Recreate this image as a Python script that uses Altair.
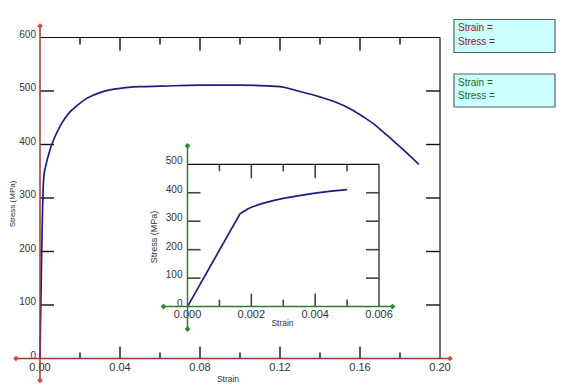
import altair as alt
import pandas as pd

# ---------------- data ----------------
main_strain = [0.0, 0.0017, 0.002, 0.003, 0.005, 0.0075, 0.010, 0.0125, 0.015, 0.018,
               0.022, 0.026, 0.030, 0.035, 0.040, 0.050, 0.060, 0.080, 0.100, 0.120,
               0.123, 0.130, 0.140, 0.148, 0.155, 0.1616, 0.167, 0.1717, 0.177, 0.182, 0.1894]
main_stress = [0, 328, 342, 362, 390, 415, 434, 449, 461, 471,
               483, 491, 497, 502, 505, 508, 509, 511, 511, 508,
               506, 499, 489, 479, 467, 452, 438, 423, 406, 389, 363]

inset_strain = [0.0, 0.00164, 0.0017, 0.0018, 0.0019, 0.002, 0.00225, 0.0025, 0.00275, 0.003,
                0.0035, 0.004, 0.0045, 0.005]
inset_stress = [0, 325, 330, 337, 344, 349, 359, 367, 374, 380,
                390, 399, 406, 411]

main_x_major = [0.04, 0.08, 0.12, 0.16]
main_x_minor = [0.02, 0.06, 0.10, 0.14, 0.18]
main_x_label_vals = [0.00, 0.04, 0.08, 0.12, 0.16, 0.20]
main_x_labels = ["0.00", "0.04", "0.08", "0.12", "0.16", "0.20"]
main_y_ticks = [100, 200, 300, 400, 500]
main_y_label_vals = [0, 100, 200, 300, 400, 500, 600]
main_y_labels = ["0", "100", "200", "300", "400", "500", "600"]

inset_x_major = [0.002, 0.004]
inset_x_minor = [0.001, 0.003, 0.005]
inset_x_label_vals = [0.000, 0.002, 0.004, 0.006]
inset_x_labels = ["0.000", "0.002", "0.004", "0.006"]
inset_y_ticks = [100, 200, 300, 400]
inset_y_label_vals = [0, 100, 200, 300, 400, 500]
inset_y_labels = ["0", "100", "200", "300", "400", "500"]

box_lines = ["Strain =", "Stress ="]

# ---------------- styling ----------------
FONT = "Liberation Sans"
CURVE = "#1c1c82"
RED_LINE = "#a83434"
RED_PT = "#d8453a"
GREEN_LINE = "#2d7d2d"
GREEN_PT = "#1f8f1f"
LABEL = "#333333"

MX = alt.Scale(domain=[0, 0.2], range=[32, 432], nice=False, zero=False)
MY = alt.Scale(domain=[0, 600], range=[350.5, 29.5], nice=False, zero=False)
IX = alt.Scale(domain=[0, 0.006], range=[179.5, 371], nice=False, zero=False)
IY = alt.Scale(domain=[0, 500], range=[298.6, 156.3], nice=False, zero=False)

ONE = alt.Data(values=[{"a": 0}])


def vals_df(vals, labels=None):
    d = {"v": vals}
    if labels is not None:
        d["t"] = labels
    return pd.DataFrame(d)


def vticks(vals, sx, sy, yval, length, color, width=1.4):
    return alt.Chart(vals_df(vals)).mark_rule(color=color, strokeWidth=width, y2Offset=length).encode(
        x=alt.X("v:Q", scale=sx, axis=None),
        y=alt.YDatum(yval, scale=sy, axis=None),
        y2=alt.Y2Datum(yval),
    )


def hticks(vals, sx, sy, xval, length, color, width=1.4):
    return alt.Chart(vals_df(vals)).mark_rule(color=color, strokeWidth=width, x2Offset=length).encode(
        y=alt.Y("v:Q", scale=sy, axis=None),
        x=alt.XDatum(xval, scale=sx, axis=None),
        x2=alt.X2Datum(xval),
    )


def hline(sx, sy, x1, x2, yv, color, width=1.3, o1=0, o2=0):
    return alt.Chart(ONE).mark_rule(color=color, strokeWidth=width, xOffset=o1, x2Offset=o2).encode(
        x=alt.XDatum(x1, scale=sx, axis=None),
        x2=alt.X2Datum(x2),
        y=alt.YDatum(yv, scale=sy, axis=None),
    )


def vline(sx, sy, xv, y1, y2, color, width=1.3, o1=0, o2=0):
    return alt.Chart(ONE).mark_rule(color=color, strokeWidth=width, yOffset=o1, y2Offset=o2).encode(
        y=alt.YDatum(y1, scale=sy, axis=None),
        y2=alt.Y2Datum(y2),
        x=alt.XDatum(xv, scale=sx, axis=None),
    )


def diamond(sx, sy, xv, yv, color, dx=0, dy=0):
    return alt.Chart(ONE).mark_point(shape="diamond", filled=True, opacity=1, size=32,
                                     color=color, xOffset=dx, yOffset=dy).encode(
        x=alt.XDatum(xv, scale=sx, axis=None),
        y=alt.YDatum(yv, scale=sy, axis=None),
    )


def xlabels(vals, labels, sx, sy, yv, size, dy):
    return alt.Chart(vals_df(vals, labels)).mark_text(
        font=FONT, fontSize=size, color=LABEL, align="center", baseline="middle", dy=dy).encode(
        x=alt.X("v:Q", scale=sx, axis=None),
        y=alt.YDatum(yv, scale=sy, axis=None),
        text="t:N",
    )


def ylabels(vals, labels, sx, sy, xv, size, dx, dy):
    return alt.Chart(vals_df(vals, labels)).mark_text(
        font=FONT, fontSize=size, color=LABEL, align="right", baseline="middle", dx=dx, dy=dy).encode(
        y=alt.Y("v:Q", scale=sy, axis=None),
        x=alt.XDatum(xv, scale=sx, axis=None),
        text="t:N",
    )


def curve(xs, ys, sx, sy, interp):
    df = pd.DataFrame({"strain": xs, "stress": ys})
    return alt.Chart(df).mark_line(color=CURVE, strokeWidth=1.7, interpolate=interp).encode(
        x=alt.X("strain:Q", scale=sx, axis=None),
        y=alt.Y("stress:Q", scale=sy, axis=None),
    )


def title_text(txt, x, y, size, angle=0):
    kw = dict(font=FONT, fontSize=size, color=LABEL, align="center", baseline="middle")
    if angle:
        kw["angle"] = angle
    return alt.Chart(ONE).mark_text(text=txt, **kw).encode(x=alt.value(x), y=alt.value(y))


def info_box(y0, color):
    rect = alt.Chart(ONE).mark_rect(fill="#ccffff", stroke="#4b6464", strokeWidth=1.2).encode(
        x=alt.value(446), x2=alt.value(547), y=alt.value(y0), y2=alt.value(y0 + 33))
    t1 = alt.Chart(ONE).mark_text(text=box_lines[0], font=FONT, fontSize=10, color=color,
                                  align="left", baseline="middle").encode(
        x=alt.value(450), y=alt.value(y0 + 8.5))
    t2 = alt.Chart(ONE).mark_text(text=box_lines[1], font=FONT, fontSize=10, color=color,
                                  align="left", baseline="middle").encode(
        x=alt.value(450), y=alt.value(y0 + 22))
    return [rect, t1, t2]


layers = []

# ---- main plot ----
layers += [
    hline(MX, MY, 0, 0.2, 600, "#111111", 1.2),
    vline(MX, MY, 0.2, 0, 600, "#111111", 1.2),
    vticks(main_x_major, MX, MY, 0, -12, "#111111"),
    vticks(main_x_minor, MX, MY, 0, -6, "#111111"),
    vticks(main_x_major, MX, MY, 600, 13, "#111111"),
    vticks(main_x_minor, MX, MY, 600, 7, "#111111"),
    hticks(main_y_ticks, MX, MY, 0, 14, "#111111"),
    hticks(main_y_ticks, MX, MY, 0.2, -14, "#111111"),
    xlabels(main_x_label_vals, main_x_labels, MX, MY, 0, 11, 9),
    ylabels(main_y_label_vals, main_y_labels, MX, MY, 0, 10, -4, -3),
    curve(main_strain, main_stress, MX, MY, "monotone"),
    hline(MX, MY, 0, 0.2, 0, RED_LINE, 1.5, -24, 10),
    vline(MX, MY, 0, 0, 600, RED_LINE, 1.5, 22, -11.5),
    diamond(MX, MY, 0, 0, RED_PT, dx=-24),
    diamond(MX, MY, 0.2, 0, RED_PT, dx=10),
    diamond(MX, MY, 0, 600, RED_PT, dy=-11.5),
    diamond(MX, MY, 0, 0, RED_PT, dy=22),
    title_text("Strain", 220, 371, 8.5),
    title_text("Stress (MPa)", 5, 196, 8, angle=270),
]

# ---- inset plot ----
layers += [
    hline(IX, IY, 0, 0.006, 500, "#111111", 1.2),
    vline(IX, IY, 0.006, 0, 500, "#111111", 1.2),
    vticks(inset_x_major, IX, IY, 0, -13, "#444444", 1.6),
    vticks(inset_x_minor, IX, IY, 0, -7, "#444444", 1.6),
    vticks(inset_x_major, IX, IY, 500, 14, "#444444", 1.6),
    vticks(inset_x_minor, IX, IY, 500, 7, "#444444", 1.6),
    hticks(inset_y_ticks, IX, IY, 0, 13, "#444444", 1.6),
    hticks(inset_y_ticks, IX, IY, 0.006, -13, "#444444", 1.6),
    xlabels(inset_x_label_vals, inset_x_labels, IX, IY, 0, 11, 8),
    ylabels(inset_y_label_vals, inset_y_labels, IX, IY, 0, 10, -5, -3),
    curve(inset_strain, inset_stress, IX, IY, "linear"),
    hline(IX, IY, 0, 0.006, 0, GREEN_LINE, 1.5, -24, 13.5),
    vline(IX, IY, 0, 0, 500, GREEN_LINE, 1.5, 22.5, -18.5),
    diamond(IX, IY, 0, 0, GREEN_PT, dx=-24),
    diamond(IX, IY, 0.006, 0, GREEN_PT, dx=13.5),
    diamond(IX, IY, 0, 500, GREEN_PT, dy=-18.5),
    diamond(IX, IY, 0, 0, GREEN_PT, dy=22.5),
    title_text("Strain", 274.5, 315, 8.5),
    title_text("Stress (MPa)", 146, 229, 9, angle=270),
]

# ---- info boxes ----
layers += info_box(11.5, "#8b1c1c")
layers += info_box(66, "#1c6b1c")

chart = alt.layer(*layers).resolve_scale(
    x="independent", y="independent"
).properties(
    width=552, height=376,
    autosize=alt.AutoSizeParams(type="none"),
    padding=0,
).configure_view(stroke=None)

chart.save("out.html", embed_options={"renderer": "svg", "actions": False})
